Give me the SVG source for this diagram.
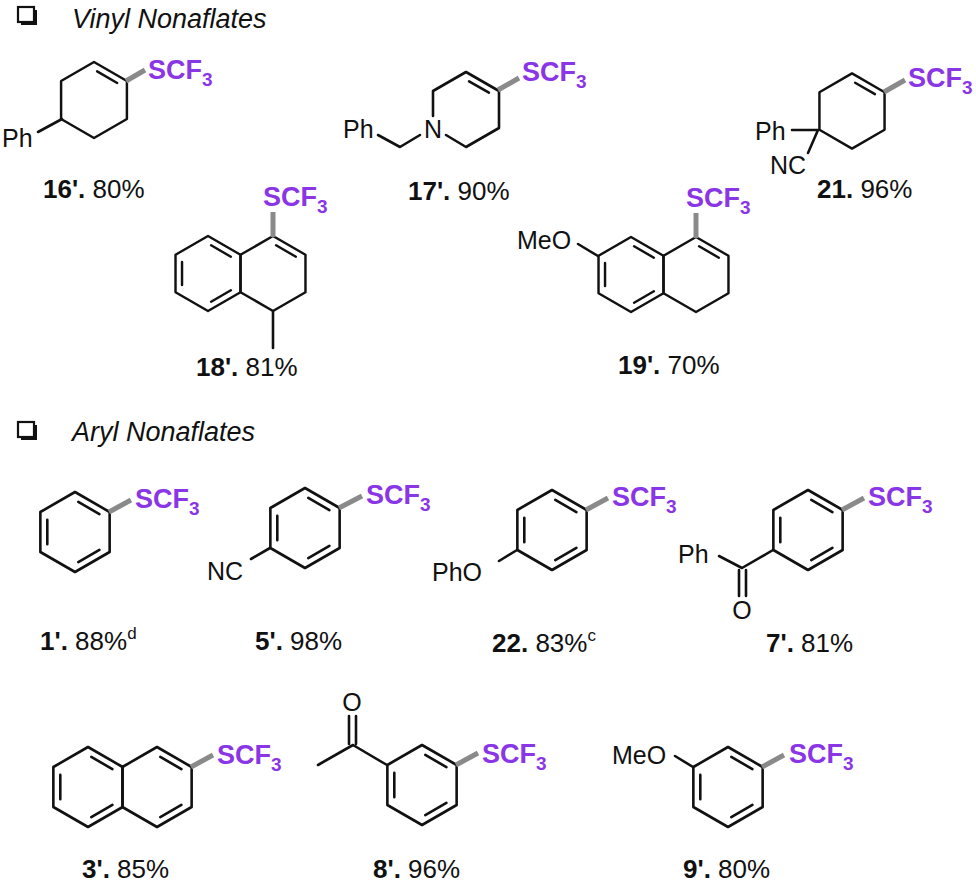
<svg xmlns="http://www.w3.org/2000/svg" width="976" height="886" viewBox="0 0 976 886">
<style>
.b{fill:none;stroke:#111;stroke-width:2.6;stroke-linejoin:round;stroke-linecap:round;vector-effect:non-scaling-stroke}
.w{stroke:#8a8a8a;stroke-width:5;stroke-linecap:butt}
.s{font-family:"Liberation Sans",Arial,sans-serif;font-weight:bold;font-size:27px;fill:#8a35e6}
.s tspan{font-size:19px}
.a{font-family:"Liberation Sans",Arial,sans-serif;font-size:25px;fill:#111}
.l{font-family:"Liberation Sans",Arial,sans-serif;font-size:26px;fill:#111}
.l tspan.k{font-weight:bold}
.h{font-family:"Liberation Sans",Arial,sans-serif;font-style:italic;font-size:27px;fill:#111}
</style>
<defs>
<path id="hex" d="M0,-40 L34.64,-20 L34.64,20 L0,40 L-34.64,20 L-34.64,-20 Z"/>
<path id="ar" d="M3.3,-30.1 L24.4,-17.9 M-27.7,-12.2 L-27.7,12.2 M24.4,17.9 L3.3,30.1"/>
<path id="ene" d="M3.3,-30.1 L24.4,-17.9"/>
</defs>
<rect x="21" y="10" width="16" height="15" fill="#111"/><rect x="18" y="7" width="16" height="15" fill="#fff" stroke="#111" stroke-width="2.2"/>
<text class="h" x="72" y="28">Vinyl Nonaflates</text>
<rect x="21" y="425" width="16" height="15" fill="#111"/><rect x="18" y="422" width="16" height="15" fill="#fff" stroke="#111" stroke-width="2.2"/>
<text class="h" x="72" y="441">Aryl Nonaflates</text>

<g id="c16">
<g transform="translate(94,100) scale(0.95)" class="b"><use href="#hex"/><use href="#ene"/></g>
<line class="b" x1="62" y1="119" x2="38" y2="132"/>
<line class="w" x1="126" y1="81" x2="145" y2="70"/>
<text class="a" x="2" y="147">Ph</text>
<text class="s" x="148" y="79">SCF<tspan dy="7">3</tspan></text>
<text class="l" x="43" y="198"><tspan class="k">16'.</tspan> 80%</text>
</g>

<g id="c17">
<path class="b" d="M433,116 L433,91 L466,72 L499,91 L499,128 L466,147 L446,135 M420,135 L400,147 L378,135"/>
<path class="b" d="M469.1,81.3 L488.9,92.7"/>
<text class="a" x="433" y="138" text-anchor="middle">N</text>
<line class="w" x1="498" y1="90" x2="519" y2="78"/>
<text class="a" x="343" y="138">Ph</text>
<text class="s" x="522" y="81">SCF<tspan dy="7">3</tspan></text>
<text class="l" x="408" y="200"><tspan class="k">17'.</tspan> 90%</text>
</g>

<g id="c21">
<g transform="translate(852,111) scale(0.94)" class="b"><use href="#hex"/><use href="#ene"/></g>
<path class="b" d="M818,130 L792,130 M818,130 L808,153"/>
<line class="w" x1="884" y1="92" x2="905" y2="80"/>
<text class="a" x="755" y="140">Ph</text>
<text class="a" x="770" y="174">NC</text>
<text class="s" x="908" y="87">SCF<tspan dy="7">3</tspan></text>
<text class="l" x="817" y="198"><tspan class="k">21.</tspan> 96%</text>
</g>

<g id="c18">
<g transform="translate(208,273.5) scale(0.9375)" class="b"><use href="#hex"/><use href="#ar"/></g>
<g transform="translate(273,273.5) scale(0.9375)" class="b"><use href="#hex"/><use href="#ene"/></g>
<line class="b" x1="273" y1="311" x2="273" y2="348"/>
<line class="w" x1="273" y1="237" x2="273" y2="212"/>
<text class="s" x="263" y="206">SCF<tspan dy="7">3</tspan></text>
<text class="l" x="196" y="376"><tspan class="k">18'.</tspan> 81%</text>
</g>

<g id="c19">
<g transform="translate(631,274.5) scale(0.9375)" class="b"><use href="#hex"/><use href="#ar"/></g>
<g transform="translate(696,274.5) scale(0.9375)" class="b"><use href="#hex"/><use href="#ene"/></g>
<line class="b" x1="598" y1="256" x2="578" y2="244"/>
<line class="w" x1="696" y1="238" x2="696" y2="213"/>
<text class="a" x="517" y="249">MeO</text>
<text class="s" x="686" y="207">SCF<tspan dy="7">3</tspan></text>
<text class="l" x="618" y="374"><tspan class="k">19'.</tspan> 70%</text>
</g>

<g id="c1">
<g transform="translate(75,532)" class="b"><use href="#hex"/><use href="#ar"/></g>
<line class="w" x1="109" y1="512" x2="131" y2="500"/>
<text class="s" x="135" y="508">SCF<tspan dy="7">3</tspan></text>
<text class="l" x="40" y="650"><tspan class="k">1'.</tspan> 88%<tspan dy="-11" font-size="17">d</tspan></text>
</g>

<g id="c5">
<g transform="translate(305,528)" class="b"><use href="#hex"/><use href="#ar"/></g>
<line class="b" x1="270" y1="548" x2="251" y2="559"/>
<line class="w" x1="339" y1="508" x2="362" y2="496"/>
<text class="a" x="207" y="580">NC</text>
<text class="s" x="366" y="504">SCF<tspan dy="7">3</tspan></text>
<text class="l" x="255" y="650"><tspan class="k">5'.</tspan> 98%</text>
</g>

<g id="c22">
<g transform="translate(552,530)" class="b"><use href="#hex"/><use href="#ar"/></g>
<line class="b" x1="517" y1="550" x2="499" y2="561"/>
<line class="w" x1="586" y1="510" x2="608" y2="498"/>
<text class="a" x="432" y="581">PhO</text>
<text class="s" x="612" y="506">SCF<tspan dy="7">3</tspan></text>
<text class="l" x="492" y="652"><tspan class="k">22.</tspan> 83%<tspan dy="-11" font-size="17">c</tspan></text>
</g>

<g id="c7">
<g transform="translate(808,530)" class="b"><use href="#hex"/><use href="#ar"/></g>
<path class="b" d="M773,550 L742,568 L719,556 M739,570 L739,596 M746,570 L746,596"/>
<line class="w" x1="842" y1="510" x2="864" y2="498"/>
<text class="a" x="678" y="563">Ph</text>
<text class="a" x="742" y="619" text-anchor="middle">O</text>
<text class="s" x="868" y="506">SCF<tspan dy="7">3</tspan></text>
<text class="l" x="766" y="652"><tspan class="k">7'.</tspan> 81%</text>
</g>

<g id="c3">
<g transform="translate(88,787)" class="b"><use href="#hex"/><use href="#ar"/></g>
<g transform="translate(157,787)" class="b"><use href="#hex"/><path d="M3.3,-30.1 L24.4,-17.9 M24.4,17.9 L3.3,30.1"/></g>
<line class="w" x1="191" y1="767" x2="213" y2="755"/>
<text class="s" x="217" y="764">SCF<tspan dy="7">3</tspan></text>
<text class="l" x="82" y="878"><tspan class="k">3'.</tspan> 85%</text>
</g>

<g id="c8">
<g transform="translate(422,785)" class="b"><use href="#hex"/><use href="#ar"/></g>
<path class="b" d="M387,765 L353,745 L318,765 M349,744 L349,716 M356,744 L356,716"/>
<line class="w" x1="456" y1="765" x2="478" y2="753"/>
<text class="a" x="352" y="711" text-anchor="middle">O</text>
<text class="s" x="482" y="763">SCF<tspan dy="7">3</tspan></text>
<text class="l" x="373" y="878"><tspan class="k">8'.</tspan> 96%</text>
</g>

<g id="c9">
<g transform="translate(728,787)" class="b"><use href="#hex"/><use href="#ar"/></g>
<line class="b" x1="693" y1="767" x2="675" y2="756"/>
<line class="w" x1="762" y1="767" x2="784" y2="755"/>
<text class="a" x="612" y="764">MeO</text>
<text class="s" x="789" y="763">SCF<tspan dy="7">3</tspan></text>
<text class="l" x="683" y="878"><tspan class="k">9'.</tspan> 80%</text>
</g>
</svg>
